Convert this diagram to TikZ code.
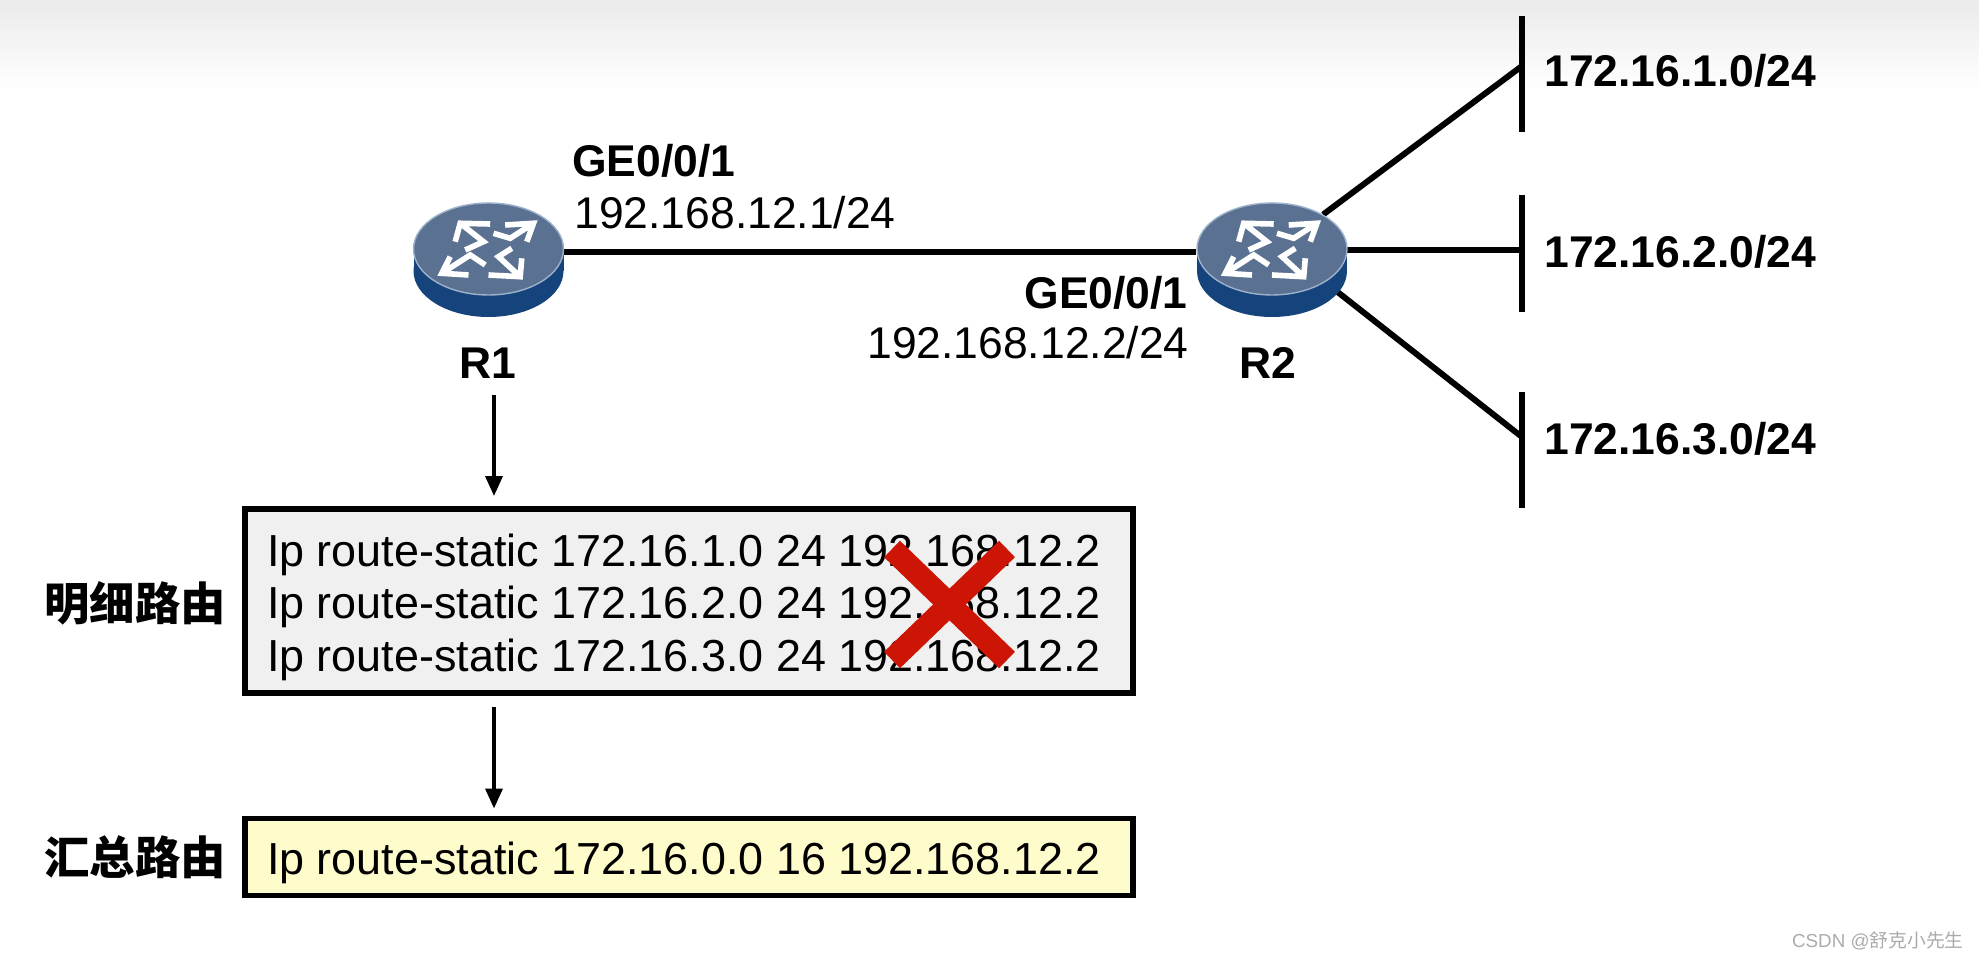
\documentclass[tikz,border=0pt]{standalone}
\usepackage{xcolor}
\usepackage{fontspec}
\setmainfont{Liberation Sans}
\newfontfamily\cjk{Noto Sans CJK SC}
\usetikzlibrary{shapes.geometric,arrows.meta,backgrounds}

\definecolor{routertop}{HTML}{5A7192}
\definecolor{routerrim}{HTML}{9DB1CB}
\definecolor{routerside}{HTML}{15437C}
\definecolor{crossred}{HTML}{CC1505}

\tikzset{
  routerside/.pic={
    \fill[routerside] (-75,0) rectangle (75,22);
    \fill[routerside] (0,22) ellipse [x radius=1.5cm, y radius=.92cm];
  },
  routericon/.pic={
    \draw[icon] (1.7,-25) -- (-28.3,-25.7) -- (-33.3,-7.3) (-28.3,-25.7) -- (-5,-7.3) -- (-23.3,1);
    \draw[icon] (16.7,-24) -- (45,-25.7) -- (38.3,-7.3) (45,-25.7) -- (21.7,-10.7) -- (5,-15.7);
    \draw[icon] (-20,26) -- (-46.7,24.3) -- (-38.3,7.7) (-46.7,24.3) -- (-18.3,6) -- (-3.3,16);
    \draw[icon] (0,26) -- (31.7,27.7) -- (33.3,9.3) (31.7,27.7) -- (10,7.7) -- (23.3,-.7);
  }
}

\begin{document}
\begin{tikzpicture}[
  x=0.02cm, y=-0.02cm,
  icon/.style={draw=white, line width=3.2pt},
  router/.style={ellipse, fill=routertop, draw=routerrim, line width=.8pt, minimum width=3cm, minimum height=1.84cm, inner sep=0pt},
  link/.style={line width=3.4pt},
  bar/.style={rectangle, fill=black, minimum width=.11cm, inner sep=0pt},
  routebox/.style={rectangle, draw=black, line width=3.4pt, minimum width=17.76cm, inner xsep=.44cm, inner ysep=0pt, text width=16.88cm, align=flush left, font=\fontsize{25.55}{30}\selectfont, execute at begin node=\rule{0pt}{25.5pt}},
  arrow/.style={-{Triangle[length=.4cm,width=.34cm]}, line width=2pt},
  head/.style={font=\fontsize{25.3}{30}\selectfont\bfseries},
  addr/.style={font=\fontsize{25.3}{30}\selectfont},
  title/.style={font=\cjk\fontsize{25.8}{30}\selectfont\bfseries}
]
\useasboundingbox (0,0) rectangle (1979,959);

% Routers
\pic at (488.5,249) {routerside};
\node[router] (R1) at (488.5,249) {};
\pic at (R1) {routericon};
\pic at (1272,249) {routerside};
\node[router] (R2) at (1272,249) {};
\pic at (R2) {routericon};
\node[head] (R1name) at (488,363) {R1};
\node[head] (R2name) at (1268,363) {R2};

% Interface labels
\node[head, anchor=west, inner sep=0pt] (ge1) at (572,161) {GE0/0/1};
\node[addr, anchor=west, inner sep=0pt] (ip1) at (574,213) {192.168.12.1/24};
\node[head, anchor=east, inner sep=0pt] (ge2) at (1188,293) {GE0/0/1};
\node[addr, anchor=east, inner sep=0pt] (ip2) at (1189,343) {192.168.12.2/24};

% Networks
\node[bar, minimum height=2.34cm] (net1) at (1522,74) {};
\node[bar, minimum height=2.34cm] (net2) at (1522,253.5) {};
\node[bar, minimum height=2.34cm] (net3) at (1522,450) {};
\coordinate (tap1) at (1522,66);
\coordinate (tap2) at (1522,250);
\coordinate (tap3) at (1522,437);
\node[head, anchor=west, inner sep=0pt] (lan1) at (1544,70.5) {172.16.1.0/24};
\node[head, anchor=west, inner sep=0pt] (lan2) at (1544,252) {172.16.2.0/24};
\node[head, anchor=west, inner sep=0pt] (lan3) at (1544,439) {172.16.3.0/24};

% Route boxes
\node[routebox, fill=black!6, minimum height=3.68cm] (detail) at (689,601) {Ip route-static 172.16.1.0 24 192.168.12.2\\Ip route-static 172.16.2.0 24 192.168.12.2\\Ip route-static 172.16.3.0 24 192.168.12.2};
\node[routebox, fill=yellow!20!white, minimum height=1.54cm] (summary) at (689,857) {Ip route-static 172.16.0.0 16 192.168.12.2};
\node[title] (detailname) at (135,603) {明细路由};
\node[title] (summaryname) at (135,857) {汇总路由};

% Cross
\draw[crossred, line width=13pt] (892,549) -- (1007,660);
\draw[crossred, line width=13pt] (1007,549) -- (892,660);

% Arrows
\coordinate (down1) at (494,395);
\draw[arrow, shorten >=.2cm] (down1) -- (down1 |- detail.north);
\draw[arrow, shorten <=.22cm, shorten >=.14cm] (detail.south -| down1) -- (summary.north -| down1);

% Watermark
\node[anchor=east, inner sep=0pt, text=black!33, font=\fontsize{10.7}{14}\selectfont] (mark) at (1964,941) {CSDN @{\cjk 舒克小先生}};

% Links and top band
\begin{pgfonlayer}{background}
\fill[top color=black!8, bottom color=white] (0,0) rectangle (1979,90);
\draw[link] (R1.-2) -- (R2.182);
\draw[link] (R2.34) -- (tap1);
\draw[link] (R2 |- tap2) -- (tap2);
\draw[link] (R2.-32) -- (tap3);
\end{pgfonlayer}

\end{tikzpicture}
\end{document}
